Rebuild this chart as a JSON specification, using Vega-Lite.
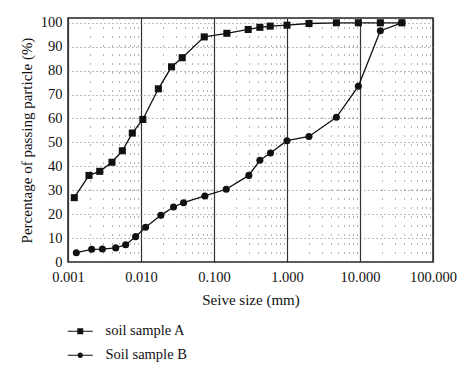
{
  "$schema": "https://vega.github.io/schema/vega-lite/v6.json",
  "width": 365,
  "height": 244,
  "autosize": "none",
  "padding": {"left": 68, "top": 18, "right": 41, "bottom": 117},
  "background": "white",
  "config": {
    "view": {"stroke": "#222", "strokeWidth": 1.5},
    "font": "Liberation Serif",
    "axis": {"labelFont": "Liberation Serif", "titleFont": "Liberation Serif", "labelColor": "#111", "titleColor": "#111", "titleFontWeight": "normal"}
  },
  "data": {
    "values": [
      {"series": "soil sample A", "size": 0.00122, "pct": 26.9},
      {"series": "soil sample A", "size": 0.00194, "pct": 36.2},
      {"series": "soil sample A", "size": 0.00272, "pct": 37.9},
      {"series": "soil sample A", "size": 0.0040, "pct": 41.7},
      {"series": "soil sample A", "size": 0.00555, "pct": 46.5},
      {"series": "soil sample A", "size": 0.0076, "pct": 53.9},
      {"series": "soil sample A", "size": 0.0106, "pct": 59.6},
      {"series": "soil sample A", "size": 0.0173, "pct": 72.4},
      {"series": "soil sample A", "size": 0.0262, "pct": 81.6},
      {"series": "soil sample A", "size": 0.0367, "pct": 85.4},
      {"series": "soil sample A", "size": 0.0735, "pct": 94.1},
      {"series": "soil sample A", "size": 0.150, "pct": 95.6},
      {"series": "soil sample A", "size": 0.294, "pct": 97.2},
      {"series": "soil sample A", "size": 0.425, "pct": 98.1},
      {"series": "soil sample A", "size": 0.589, "pct": 98.6},
      {"series": "soil sample A", "size": 1.0, "pct": 99.0},
      {"series": "soil sample A", "size": 2.0, "pct": 99.7},
      {"series": "soil sample A", "size": 4.75, "pct": 100},
      {"series": "soil sample A", "size": 9.5, "pct": 100},
      {"series": "soil sample A", "size": 19.0, "pct": 100},
      {"series": "soil sample A", "size": 37.5, "pct": 100},
      {"series": "Soil sample B", "size": 0.0013, "pct": 3.9},
      {"series": "Soil sample B", "size": 0.00211, "pct": 5.3},
      {"series": "Soil sample B", "size": 0.00296, "pct": 5.4},
      {"series": "Soil sample B", "size": 0.0045, "pct": 5.9},
      {"series": "Soil sample B", "size": 0.00616, "pct": 7.2},
      {"series": "Soil sample B", "size": 0.00844, "pct": 10.6},
      {"series": "Soil sample B", "size": 0.01156, "pct": 14.5},
      {"series": "Soil sample B", "size": 0.0187, "pct": 19.5},
      {"series": "Soil sample B", "size": 0.0279, "pct": 23.0},
      {"series": "Soil sample B", "size": 0.0383, "pct": 24.8},
      {"series": "Soil sample B", "size": 0.075, "pct": 27.6},
      {"series": "Soil sample B", "size": 0.147, "pct": 30.4},
      {"series": "Soil sample B", "size": 0.300, "pct": 36.2},
      {"series": "Soil sample B", "size": 0.425, "pct": 42.5},
      {"series": "Soil sample B", "size": 0.594, "pct": 45.6},
      {"series": "Soil sample B", "size": 1.0, "pct": 50.7},
      {"series": "Soil sample B", "size": 2.0, "pct": 52.5},
      {"series": "Soil sample B", "size": 4.75, "pct": 60.5},
      {"series": "Soil sample B", "size": 9.5, "pct": 73.5},
      {"series": "Soil sample B", "size": 19.0, "pct": 96.7},
      {"series": "Soil sample B", "size": 37.5, "pct": 100}
    ]
  },
  "encoding": {
    "y": {
      "field": "pct", "type": "quantitative",
      "scale": {"domain": [0, 102], "nice": false},
      "axis": {
        "values": [0, 10, 20, 30, 40, 50, 60, 70, 80, 90, 100],
        "grid": true, "gridColor": "#777", "gridDash": [1, 3], "gridWidth": 1, "gridOpacity": 1,
        "ticks": false, "domain": false,
        "labelFontSize": 14.5, "labelPadding": 6, "labelOverlap": false, "labelFlush": false,
        "title": "Percentage of passing particle (%)", "titleFontSize": 15, "titlePadding": 6
      }
    }
  },
  "layer": [
    {
      "mark": {"type": "line", "color": "#111", "strokeWidth": 1.3},
      "encoding": {
        "x": {
          "field": "size", "type": "quantitative",
          "scale": {"type": "log", "domain": [0.001, 100], "nice": false},
          "axis": {
            "orient": "bottom",
            "values": [0.001, 0.01, 0.1, 1, 10, 100],
            "format": ".3f",
            "grid": true, "gridColor": "#333", "gridWidth": 1.2, "gridOpacity": 1,
            "ticks": false, "domain": false,
            "labelFontSize": 14.5, "labelPadding": 8, "labelFlush": false, "labelOverlap": false,
            "title": "Seive size (mm)", "titleFontSize": 15, "titlePadding": 9
          }
        },
        "detail": {"field": "series", "type": "nominal"}
      }
    },
    {
      "mark": {"type": "point", "filled": true, "color": "#111", "opacity": 1, "size": 50},
      "encoding": {
        "x": {
          "field": "size", "type": "quantitative",
          "scale": {"type": "log", "domain": [0.001, 100], "nice": false},
          "axis": {
            "orient": "top",
            "values": [0.002, 0.003, 0.004, 0.005, 0.006, 0.007, 0.008, 0.009, 0.02, 0.03, 0.04, 0.05, 0.06, 0.07, 0.08, 0.09, 0.2, 0.3, 0.4, 0.5, 0.6, 0.7, 0.8, 0.9, 2, 3, 4, 5, 6, 7, 8, 9, 20, 30, 40, 50, 60, 70, 80, 90],
            "labels": false, "ticks": false, "domain": false, "title": null,
            "grid": true, "gridColor": "#666", "gridDash": [1, 8], "gridWidth": 1, "gridOpacity": 1
          }
        },
        "shape": {
          "field": "series", "type": "nominal",
          "scale": {"domain": ["soil sample A", "Soil sample B"], "range": ["square", "circle"]},
          "legend": null
        }
      }
    },
    {
      "mark": {"type": "point", "filled": true, "color": "#111", "opacity": 0},
      "encoding": {
        "x": {"field": "size", "type": "quantitative", "scale": {"type": "log", "domain": [0.001, 100], "nice": false}, "axis": null},
        "shape": {
          "field": "series", "type": "nominal",
          "scale": {
            "domain": ["soil sample A", "Soil sample B"],
            "range": [
              "M-2.5,-0.12H2.5V0.12H-2.5ZM-0.6,-0.6H0.6V0.6H-0.6Z",
              "M-2.5,-0.12H2.5V0.12H-2.5ZM-0.55,0A0.55,0.55 0 1,1 0.55,0A0.55,0.55 0 1,1 -0.55,0Z"
            ]
          },
          "legend": {
            "title": null,
            "orient": "none",
            "legendX": 5,
            "legendY": 306,
            "direction": "vertical",
            "padding": 0,
            "symbolSize": 100,
            "symbolOpacity": 1,
            "symbolFillColor": "#111",
            "symbolStrokeColor": "#111",
            "symbolStrokeWidth": 0,
            "labelFont": "Liberation Serif",
            "labelFontSize": 14.5,
            "labelColor": "#111",
            "labelOffset": 18,
            "rowPadding": 9
          }
        }
      }
    }
  ],
  "resolve": {"scale": {"shape": "independent"}, "axis": {"x": "independent"}}
}
